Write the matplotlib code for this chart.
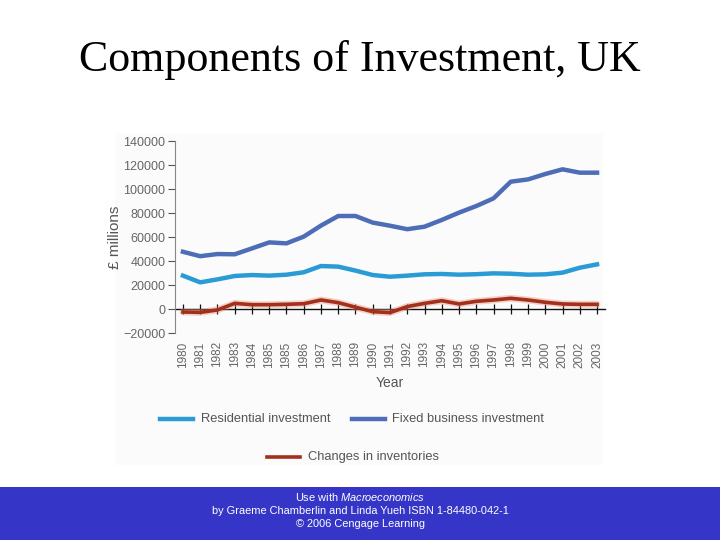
import matplotlib
matplotlib.use("Agg")
import matplotlib.pyplot as plt
from matplotlib.patches import Rectangle

plt.rcParams["mathtext.fontset"] = "custom"
plt.rcParams["mathtext.rm"] = "Liberation Sans"
plt.rcParams["mathtext.it"] = "Liberation Sans:italic"

years = ["1980", "1981", "1982", "1983", "1984", "1985", "1985", "1986", "1987",
         "1988", "1989", "1990", "1991", "1992", "1993", "1994", "1995", "1996",
         "1997", "1998", "1999", "2000", "2001", "2002", "2003"]

residential = [27800, 22200, 24700, 27500, 28300, 27800, 28600, 30600, 35800,
               35300, 32000, 28300, 26900, 27800, 28900, 29200, 28600, 29000,
               29700, 29400, 28600, 28900, 30300, 34400, 37200]

fixed_business = [47700, 44000, 45800, 45600, 50500, 55500, 54700, 60300, 69500,
                  77500, 77500, 72000, 69400, 66500, 68600, 74200, 80300, 85800,
                  92200, 106100, 108000, 112500, 116400, 113600, 113600]

inventories = [-2500, -2800, -800, 4700, 3600, 3600, 3900, 4400, 7500,
               5300, 1500, -2200, -3000, 2000, 4700, 6900, 4200, 6400,
               7500, 8900, 7500, 5600, 4200, 3900, 3900]

yticks = [-20000, 0, 20000, 40000, 60000, 80000, 100000, 120000, 140000]

W, H = 720, 540
fig = plt.figure(figsize=(7.2, 5.4), dpi=100)
fig.patch.set_facecolor("white")

# light chart background
fig.patches.append(Rectangle((115 / W, 1 - 465 / H), (603 - 115) / W, (465 - 133) / H,
                             transform=fig.transFigure, facecolor="#fbfbfc",
                             edgecolor="none", zorder=-5))
# bottom band
fig.patches.append(Rectangle((0, 0), 1, (540 - 487) / H, transform=fig.transFigure,
                             facecolor="#3535c8", edgecolor="none", zorder=-5))

fig.text(0.5, 1 - 60 / H, "Components of Investment, UK", ha="center", va="center",
         fontsize=31.7, family="Liberation Serif", color="black")

tick_font = dict(family="Liberation Sans", color="#666666")

ax = fig.add_axes([175 / W, 1 - 333 / H, (605 - 175) / W, (333 - 141) / H])
ax.set_zorder(2)
ax.set_facecolor("none")
x = list(range(len(years)))
ax.plot(x, residential, color="#2b9bd6", lw=3.2, solid_joinstyle="round")
ax.plot(x, fixed_business, color="#4d6db7", lw=3.2, solid_joinstyle="round")
ax.plot(x, inventories, color="#e9907c", lw=5.0, alpha=0.4, solid_capstyle="round")
ax.plot(x, inventories, color="#a3301b", lw=2.6, solid_joinstyle="round")

ax.set_xlim(-0.46, len(years) - 1 + 0.46)
ax.set_ylim(-20000, 140000)
ax.set_yticks(yticks)
ax.set_yticklabels([f"{v}".replace("-", "\u2212") for v in yticks], fontsize=9, **tick_font)
ax.tick_params(axis="y", length=5, width=0.8, color="#555555", pad=2)
for s in ["top", "right", "bottom"]:
    ax.spines[s].set_visible(False)
ax.spines["left"].set_color("#888888")
ax.spines["left"].set_linewidth(0.8)

ax.set_xticks(x)
ax.set_xticklabels(years, rotation=90, fontsize=8.5, **tick_font)
ax.tick_params(axis="x", length=0, pad=6)

sec = ax.secondary_xaxis(20000 / 160000)
sec.set_xticks(x)
sec.set_xticklabels([])
sec.tick_params(axis="x", direction="inout", length=7, width=0.9, color="#111111")
sec.spines["bottom"].set_color("#111111")
sec.spines["bottom"].set_linewidth(1.0)
sec.spines["top"].set_visible(False)

ax.set_ylabel("£ millions", fontsize=11, family="Liberation Sans", color="#555555")
ax.yaxis.set_label_coords(-0.123, 0.5)
ax.set_xlabel("Year", fontsize=10, family="Liberation Sans", color="#555555", labelpad=6)

# legend
leg_font = dict(fontsize=9.3, family="Liberation Sans", color="#555555", va="center")
y1 = 1 - 419 / H
y2 = 1 - 457 / H
fig.add_artist(plt.Line2D([160 / W, 193 / W], [y1, y1], color="#2b9bd6", lw=3.2, transform=fig.transFigure))
fig.text(201 / W, y1, "Residential investment", **leg_font)
fig.add_artist(plt.Line2D([352 / W, 385 / W], [y1, y1], color="#4d6db7", lw=3.2, transform=fig.transFigure))
fig.text(392 / W, y1, "Fixed business investment", **leg_font)
fig.add_artist(plt.Line2D([267 / W, 300 / W], [y2, y2], color="#a3301b", lw=2.6, transform=fig.transFigure))
fig.text(308 / W, y2, "Changes in inventories", **leg_font)

foot = dict(fontsize=7.9, family="Liberation Sans", color="white", ha="center", va="center")
fig.text(0.5, 1 - 497 / H, "Use with $\\it{Macroeconomics}$", **foot)
fig.text(0.5, 1 - 511 / H, "by Graeme Chamberlin and Linda Yueh ISBN 1-84480-042-1", **foot)
fig.text(0.5, 1 - 524 / H, "© 2006 Cengage Learning", **foot)

fig.savefig("out.png", dpi=100)
